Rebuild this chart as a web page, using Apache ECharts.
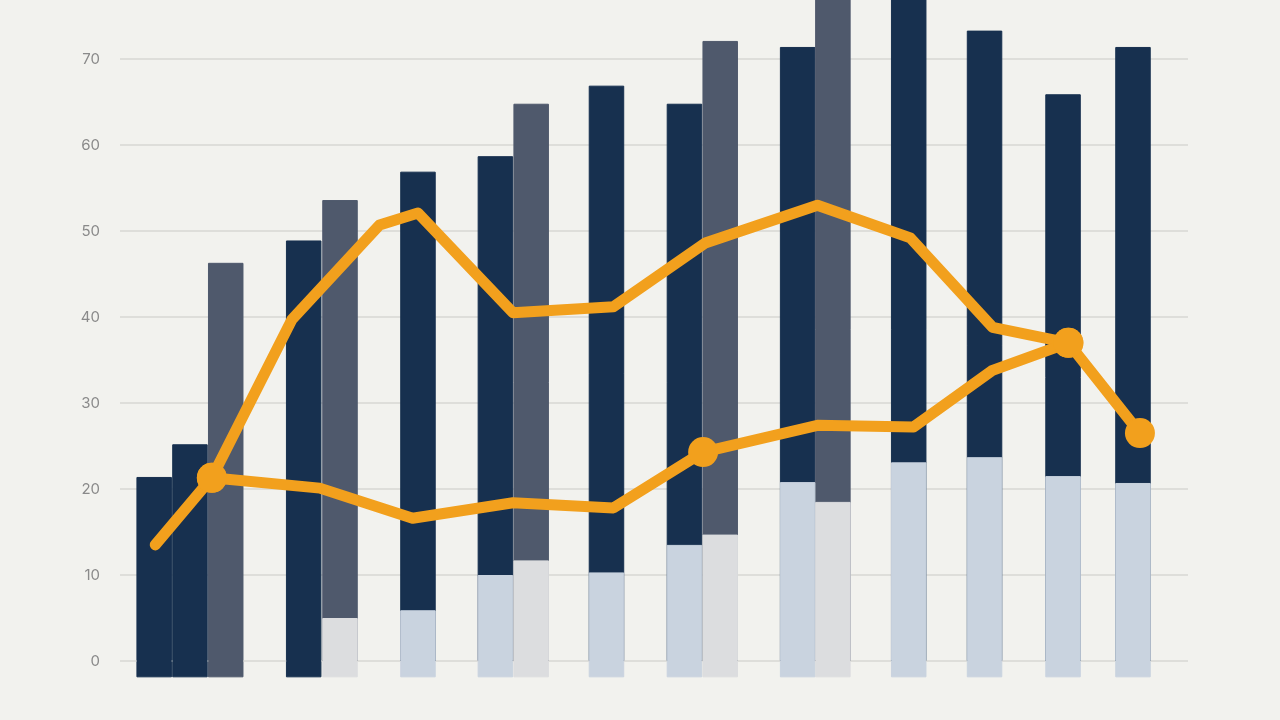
<!DOCTYPE html>
<html><head><meta charset="utf-8">
<script src="https://cdn.jsdelivr.net/npm/echarts@6/dist/echarts.min.js"></script>
<style>html,body{margin:0;padding:0;background:#f2f2ee}#c{width:1280px;height:720px}</style>
</head><body><div id="c"></div>
<script>
// y axis ticks
const yTicks = [0, 10, 20, 30, 40, 50, 60, 70];

// bars: position along the horizontal scale, kind, top value, light lower part, part below baseline
const barX     = [3.2, 6.55, 9.9, 17.2, 20.6, 27.9, 35.15, 38.5, 45.55, 52.85, 56.2, 63.45, 66.75, 73.85, 80.95, 88.3, 94.85];
const barKind  = ['navy','navy','slate','navy','slate','navy','navy','slate','navy','navy','slate','navy','slate','navy','navy','navy','navy'];
const barTop   = [21.4, 25.2, 46.3, 48.9, 53.6, 56.9, 58.7, 64.8, 66.9, 64.8, 72.1, 71.4, 78, 79, 73.3, 65.9, 71.4];
const barLight = [0, 0, 0, 0, 5.0, 5.9, 10.0, 11.7, 10.3, 13.5, 14.7, 20.8, 18.5, 23.1, 23.7, 21.5, 20.7];
const barBase  = [-1.9, -1.9, -1.9, -1.9, -1.9, -1.9, -1.9, -1.9, -1.9, -1.9, -1.9, -1.9, -1.9, -1.9, -1.9, -1.9, -1.9];

// upper orange line
const upX    = [3.3, 8.6, 16.1, 24.3, 27.9, 36.8, 46.2, 54.8, 65.3, 74.0, 81.7, 88.8, 95.5];
const upY    = [13.5, 21.3, 39.7, 50.7, 52.1, 40.5, 41.2, 48.6, 53.0, 49.2, 38.8, 37.0, 26.5];
const upMark = [0, 1, 0, 0, 0, 0, 0, 0, 0, 0, 0, 1, 1];

// lower orange line
const lowX    = [8.6, 18.7, 27.4, 36.8, 46.2, 54.6, 65.3, 74.3, 81.7, 88.8];
const lowY    = [21.3, 20.1, 16.6, 18.4, 17.8, 24.3, 27.4, 27.2, 33.8, 37.0];
const lowMark = [1, 0, 0, 0, 0, 1, 0, 0, 0, 1];

const COLORS = {
  navy:  { dark: '#17304f', light: '#c9d3df' },
  slate: { dark: '#4f596c', light: '#dcdddf' }
};
const ORANGE = '#f2a01d';

function style(c) { return { color: c, borderColor: c, borderWidth: 1 }; }
const darkData = barX.map((x, i) => ({ value: [x, barTop[i]], itemStyle: style(COLORS[barKind[i]].dark) }));
const lightData = barX.map((x, i) => barLight[i] > 0
  ? { value: [x, barLight[i]], itemStyle: style(COLORS[barKind[i]].light) }
  : { value: [x, null] });
const baseData = barX.map((x, i) => ({ value: [x, barBase[i]], itemStyle: style(barLight[i] > 0 ? COLORS[barKind[i]].light : COLORS[barKind[i]].dark) }));

function lineData(xs, ys, marks) {
  return xs.map((x, i) => marks[i]
    ? { value: [x, ys[i]], symbol: 'circle', symbolSize: 30 }
    : { value: [x, ys[i]], symbol: 'none' });
}

const barCommon = { type: 'bar', barWidth: 35.5, barGap: '-100%', clip: false, silent: true, animation: false };
const lineCommon = {
  type: 'line', showSymbol: true, symbol: 'none', z: 5, silent: true, animation: false,
  lineStyle: { color: ORANGE, width: 11, cap: 'round', join: 'round' },
  itemStyle: { color: ORANGE }
};

const chart = echarts.init(document.getElementById('c'));
chart.setOption({
  backgroundColor: '#f2f2ee',
  animation: false,
  grid: { left: 120, right: 92, top: 59, bottom: 59 },
  xAxis: { type: 'value', min: 0, max: 100, show: false },
  yAxis: {
    type: 'value', min: yTicks[0], max: yTicks[yTicks.length - 1], interval: 10,
    axisLine: { show: false }, axisTick: { show: false },
    axisLabel: { color: '#8a8a8a', fontSize: 15, fontFamily: 'Inter', margin: 20 },
    splitLine: { lineStyle: { color: '#dededa', width: 2 } }
  },
  series: [
    Object.assign({ name: 'top', data: darkData }, barCommon),
    Object.assign({ name: 'lower', data: lightData }, barCommon),
    Object.assign({ name: 'base', data: baseData }, barCommon),
    Object.assign({ name: 'upper line', data: lineData(upX, upY, upMark) }, lineCommon),
    Object.assign({ name: 'lower line', data: lineData(lowX, lowY, lowMark) }, lineCommon)
  ]
});
</script></body></html>
